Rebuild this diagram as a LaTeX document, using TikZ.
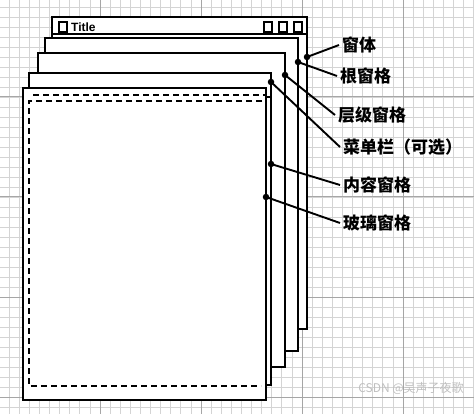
\documentclass[tikz,border=0pt]{standalone}
\usepackage{fontspec}
\setmainfont{Liberation Sans}
\newfontfamily\cjk{Noto Sans CJK SC}
\begin{document}
\begin{tikzpicture}[x=1pt, y=-1pt,
  pane/.style={draw, line width=2.3pt, fill=white},
  knopf/.style={draw, line width=1.5pt},
  glasrand/.style={line width=2.2pt, dash pattern=on 6pt off 4pt},
  verbinder/.style={line width=1.9pt},
  punkt/.style={circle, fill, inner sep=0pt, minimum size=6.5pt},
  beschriftung/.style={anchor=west, inner sep=3pt, font=\cjk\bfseries\fontsize{17}{17}\selectfont}]
  \useasboundingbox (0,0) rectangle (474,414);

  % Raster
  \foreach \i in {0,...,47}
    \draw[black!17, line width=0.7pt] ({\i*10.1-1},0) -- ({\i*10.1-1},414);
  \foreach \j in {0,...,42}
    \draw[black!17, line width=0.7pt] (0,{\j*10-3}) -- (474,{\j*10-3});
  \foreach \i in {1,...,4}
    \draw[black!35, line width=1pt] ({\i*101-1},0) -- ({\i*101-1},414);
  \foreach \j in {1,...,4}
    \draw[black!35, line width=1pt] (0,{\j*100-3}) -- (474,{\j*100-3});

  % Fenster mit Titelleiste
  \draw[pane] (52,17) rectangle (307,329);
  \draw[line width=2.3pt] (52,34) -- (307,34);
  \draw[knopf] (59,22) rectangle (67,32);
  \node[anchor=west, inner sep=0pt, font=\bfseries\fontsize{12}{12}\selectfont] (titel) at (71,27) {Title};
  \draw[knopf] (264,22) rectangle (272,32);
  \draw[knopf] (279,22) rectangle (287,32);
  \draw[knopf] (294,22) rectangle (302,32);

  % Ebenen
  \draw[pane] (45,38) rectangle (298,351);
  \draw[pane] (38,53) rectangle (285,367);
  \draw[pane] (29,73) rectangle (271,97);
  \draw[pane] (29,97) rectangle (271,385);
  \draw[pane] (23,88) rectangle (266,400);
  \draw[glasrand] (33,95) -- (265,95);
  \draw[glasrand] (262,101) -- (29,101) -- (29,386) -- (261,386);

  % Punkte
  \node[punkt] (p1) at (307,57) {};
  \node[punkt] (p2) at (298,62) {};
  \node[punkt] (p3) at (285,75) {};
  \node[punkt] (p4) at (271,82) {};
  \node[punkt] (p5) at (271,164) {};
  \node[punkt] (p6) at (266,197) {};

  % Beschriftungen
  \node[beschriftung] (l1) at (339,45) {窗体};
  \node[beschriftung] (l2) at (337,76) {根窗格};
  \node[beschriftung] (l3) at (335,115) {层级窗格};
  \node[beschriftung] (l4) at (340,147) {菜单栏（可选）};
  \node[beschriftung] (l5) at (340,185) {内容窗格};
  \node[beschriftung] (l6) at (340,223) {玻璃窗格};

  % Linien
  \draw[verbinder] (p1.center) -- (l1.west);
  \draw[verbinder] (p2.center) -- (l2.west);
  \draw[verbinder] (p3.center) -- (l3.west);
  \draw[verbinder] (p4.center) -- (l4.west);
  \draw[verbinder] (p5.center) -- (l5.west);
  \draw[verbinder] (p6.center) -- (l6.west);

  \node[text=black!25, font=\cjk\fontsize{12}{12}\selectfont] (wz) at (411,388) {CSDN @吴声子夜歌};
\end{tikzpicture}
\end{document}
